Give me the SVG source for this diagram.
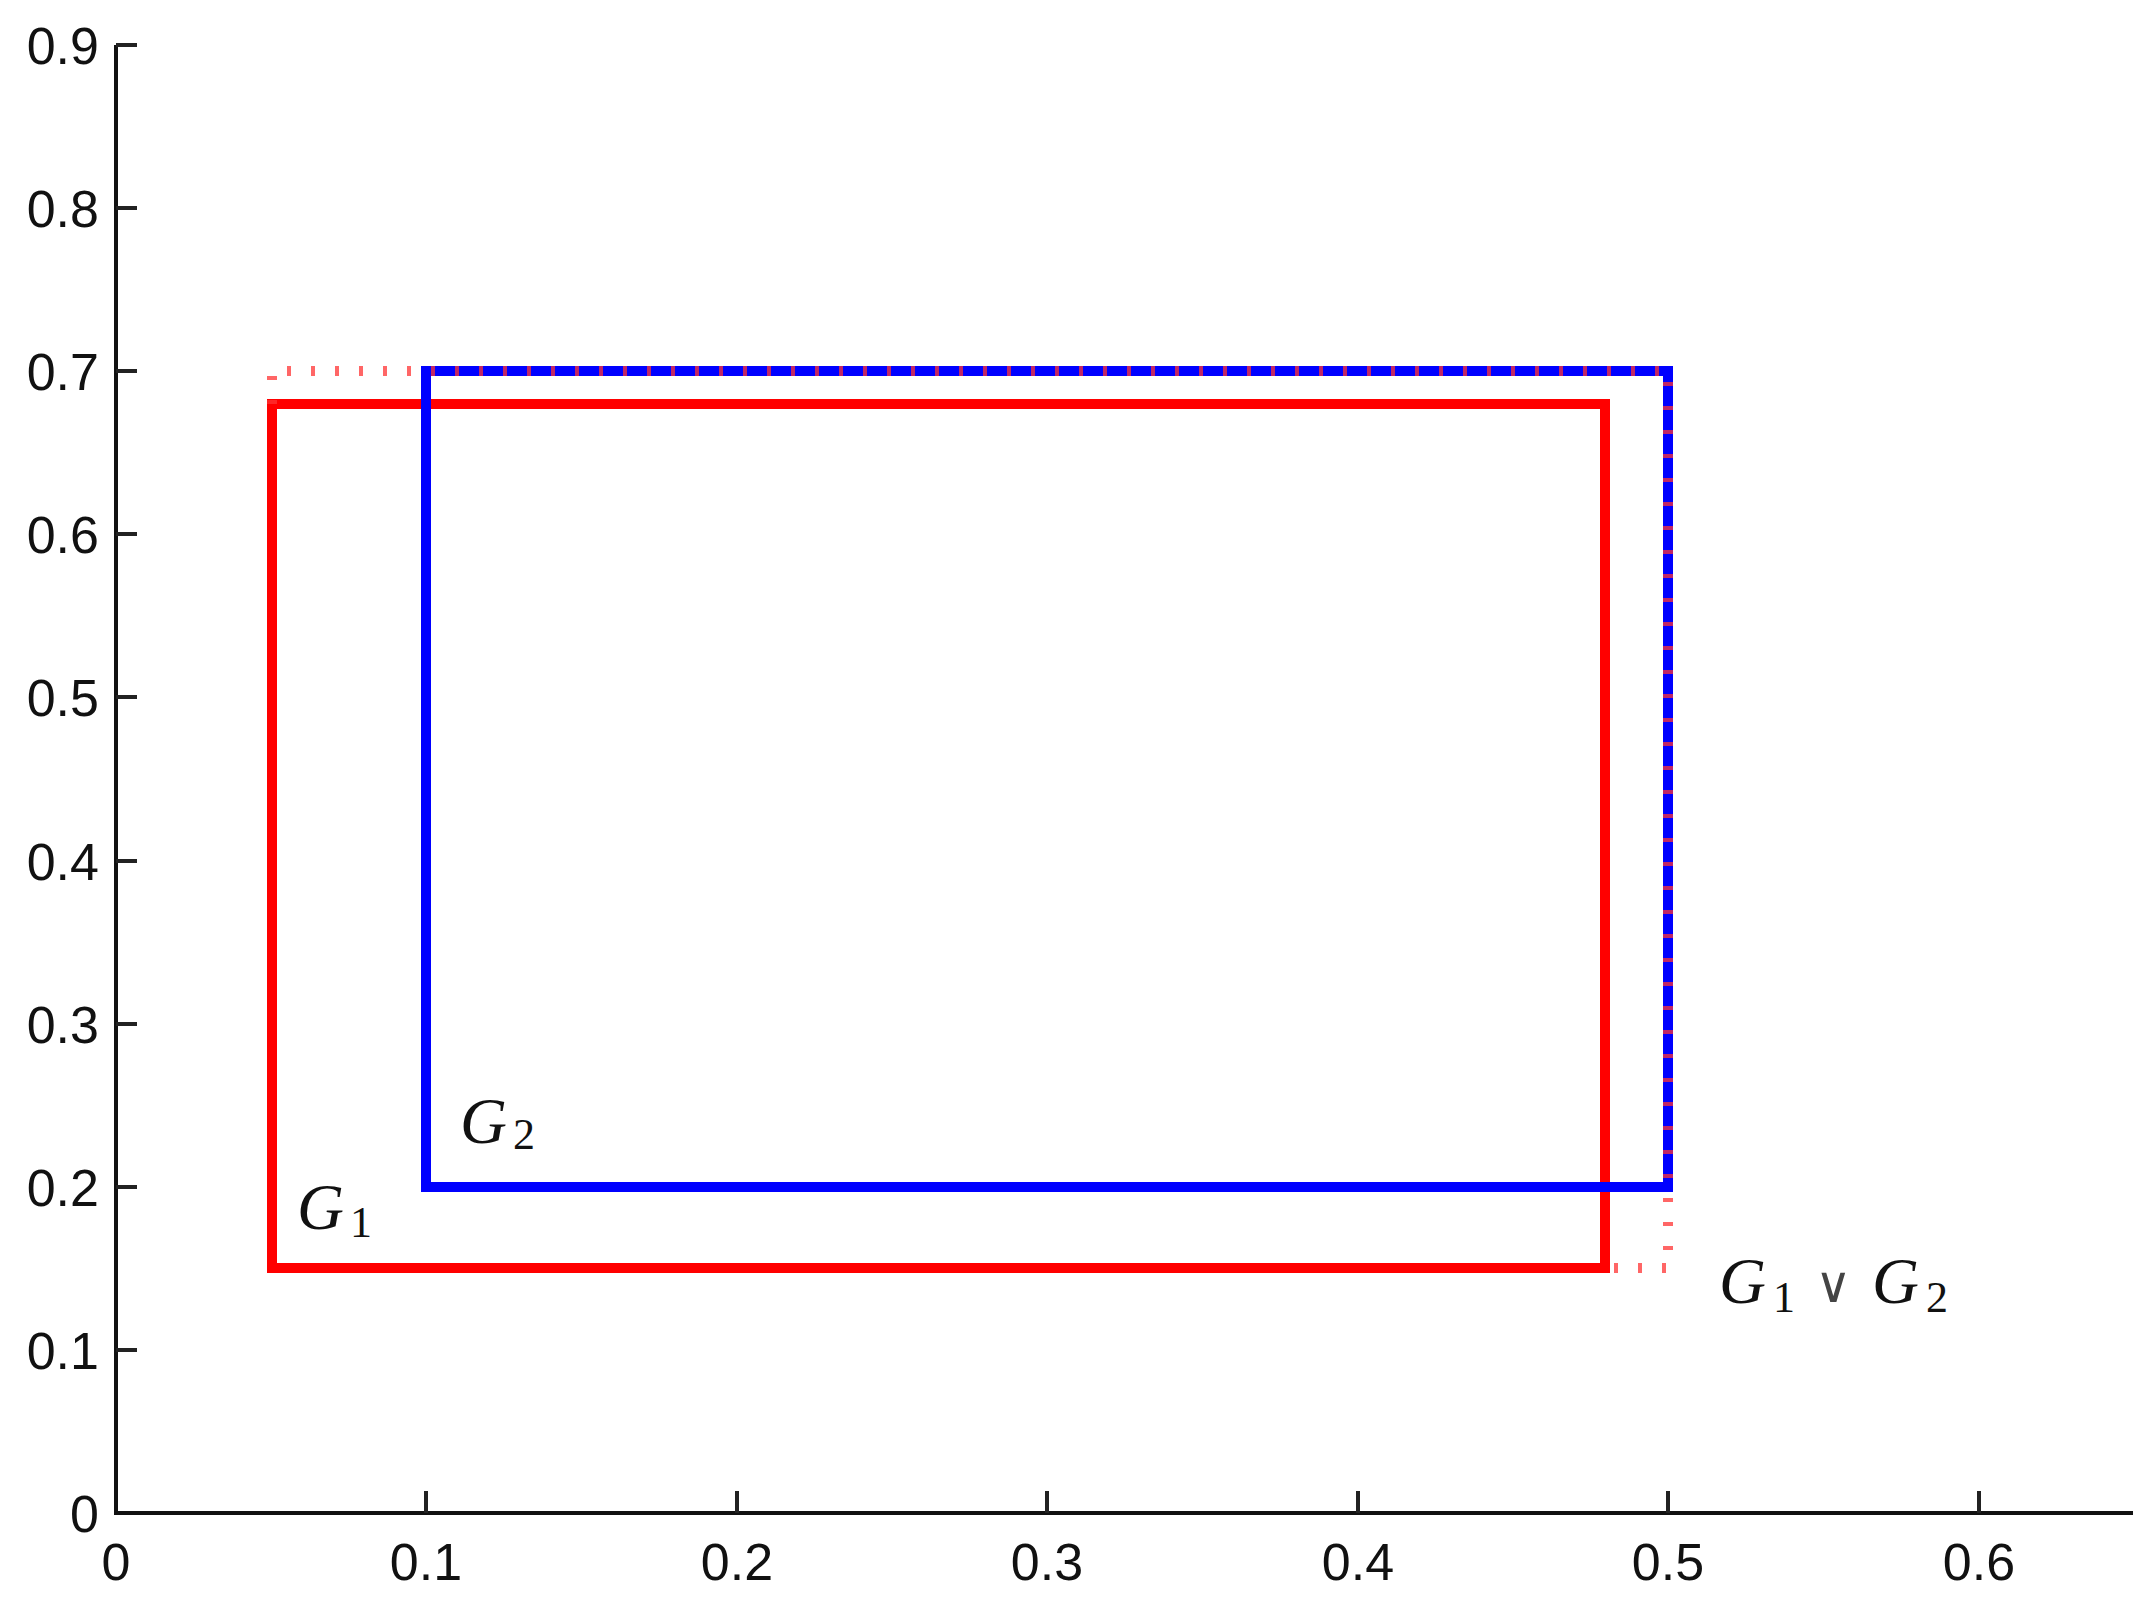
<svg xmlns="http://www.w3.org/2000/svg" width="2153" height="1615" viewBox="0 0 2153 1615">
<style>
.ax{stroke:#111;stroke-width:4;fill:none;stroke-linecap:butt}
.tk{stroke:#222;stroke-width:4}
.lbl{font-family:"Liberation Sans",Arial,sans-serif;font-size:52px;fill:#111}
.ml{font-family:"Liberation Serif","Times New Roman",serif;font-style:italic;font-size:65px;fill:#111}
.sub{font-family:"Liberation Serif","Times New Roman",serif;font-size:44px;fill:#111}
.op{font-family:"DejaVu Serif",serif;font-size:50px;fill:#444}
.g1{stroke:#ff0000;stroke-width:10;fill:none}
.g2{stroke:#0000ff;stroke-width:10;fill:none}
.dot{stroke:#ff3333;stroke-width:10;stroke-dasharray:4 20;fill:none;opacity:0.75}
</style>
<rect width="2153" height="1615" fill="#ffffff"/>
<g id="axes">
<path class="ax" d="M116 45 V1513 H2133"/>
<g class="tk">
<line x1="116" y1="45" x2="137" y2="45"/>
<line x1="116" y1="208" x2="137" y2="208"/>
<line x1="116" y1="371" x2="137" y2="371"/>
<line x1="116" y1="534" x2="137" y2="534"/>
<line x1="116" y1="697" x2="137" y2="697"/>
<line x1="116" y1="861" x2="137" y2="861"/>
<line x1="116" y1="1024" x2="137" y2="1024"/>
<line x1="116" y1="1187" x2="137" y2="1187"/>
<line x1="116" y1="1350" x2="137" y2="1350"/>
<line x1="426" y1="1513" x2="426" y2="1491"/>
<line x1="737" y1="1513" x2="737" y2="1491"/>
<line x1="1047" y1="1513" x2="1047" y2="1491"/>
<line x1="1358" y1="1513" x2="1358" y2="1491"/>
<line x1="1668" y1="1513" x2="1668" y2="1491"/>
<line x1="1979" y1="1513" x2="1979" y2="1491"/>
</g>
<g class="lbl" text-anchor="end">
<text x="99" y="64">0.9</text>
<text x="99" y="227">0.8</text>
<text x="99" y="390">0.7</text>
<text x="99" y="553">0.6</text>
<text x="99" y="716">0.5</text>
<text x="99" y="880">0.4</text>
<text x="99" y="1043">0.3</text>
<text x="99" y="1206">0.2</text>
<text x="99" y="1369">0.1</text>
<text x="99" y="1532">0</text>
</g>
<g class="lbl" text-anchor="middle">
<text x="116" y="1580">0</text>
<text x="426" y="1580">0.1</text>
<text x="737" y="1580">0.2</text>
<text x="1047" y="1580">0.3</text>
<text x="1358" y="1580">0.4</text>
<text x="1668" y="1580">0.5</text>
<text x="1979" y="1580">0.6</text>
</g>
</g>
<g id="G1">
<rect class="g1" x="272" y="404" width="1333" height="864"/>
<text class="ml" x="297" y="1229">G</text><text class="sub" x="350" y="1237">1</text>
</g>
<g id="G2">
<rect class="g2" x="426" y="371" width="1242" height="816"/>
<text class="ml" x="460" y="1143">G</text><text class="sub" x="513" y="1149">2</text>
</g>
<g id="G1orG2">
<path class="dot" d="M272 404 V371 H1668 V1268 H1605"/>
<text class="ml" x="1719" y="1303">G</text><text class="sub" x="1773" y="1312">1</text>
<text class="op" x="1815" y="1302">∨</text>
<text class="ml" x="1872" y="1303">G</text><text class="sub" x="1926" y="1312">2</text>
</g>
</svg>
